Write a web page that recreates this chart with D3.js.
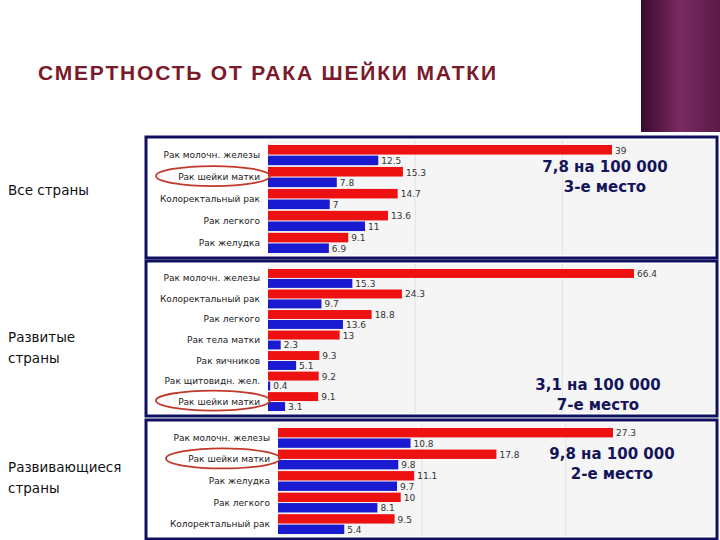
<!DOCTYPE html>
<html lang="ru">
<head>
  <meta charset="UTF-8">
  <style>
    body { margin: 0; background: #fff; }
    svg { font-family: "DejaVu Sans", sans-serif; }
  </style>
</head>
<body>
  <div id="container"></div>
  <script src="https://cdn.jsdelivr.net/npm/d3@7"></script>
  <script>
    // all countries
    const catsAll = ['Рак молочн. железы', 'Рак шейки матки', 'Колоректальный рак', 'Рак легкого', 'Рак желудка'];
    const incAll = [39, 15.3, 14.7, 13.6, 9.1];
    const mortAll = [12.5, 7.8, 7, 11, 6.9];
    // developed
    const catsDev = ['Рак молочн. железы', 'Колоректальный рак', 'Рак легкого', 'Рак тела матки', 'Рак яичников', 'Рак щитовидн. жел.', 'Рак шейки матки'];
    const incDev = [66.4, 24.3, 18.8, 13, 9.3, 9.2, 9.1];
    const mortDev = [15.3, 9.7, 13.6, 2.3, 5.1, 0.4, 3.1];
    // developing
    const catsDvg = ['Рак молочн. железы', 'Рак шейки матки', 'Рак желудка', 'Рак легкого', 'Колоректальный рак'];
    const incDvg = [27.3, 17.8, 11.1, 10, 9.5];
    const mortDvg = [10.8, 9.8, 9.7, 8.1, 5.4];

    const panels = [
      { cats: catsAll, a: incAll, b: mortAll, y0: 137, h: 121, x0: 268, xMax: 612, mark: 1,
        note: ['7,8 на 100 000', '3-е место'], noteX: 605, noteY: 172 },
      { cats: catsDev, a: incDev, b: mortDev, y0: 261, h: 155, x0: 268, xMax: 634, mark: 6,
        note: ['3,1 на 100 000', '7-е место'], noteX: 598, noteY: 390 },
      { cats: catsDvg, a: incDvg, b: mortDvg, y0: 420, h: 119, x0: 278, xMax: 613, mark: 1,
        note: ['9,8 на 100 000', '2-е место'], noteX: 612, noteY: 459 }
    ];

    const svg = d3.select('#container').append('svg').attr('width', 720).attr('height', 540);

    const defs = svg.append('defs');
    const grad = defs.append('linearGradient').attr('id', 'corner').attr('x1', 0).attr('x2', 1);
    grad.append('stop').attr('offset', 0).attr('stop-color', '#3a0a30');
    grad.append('stop').attr('offset', 0.5).attr('stop-color', '#7a2a60');
    grad.append('stop').attr('offset', 1).attr('stop-color', '#5a1a48');
    svg.append('rect').attr('x', 641).attr('y', 0).attr('width', 79).attr('height', 132).attr('fill', 'url(#corner)');

    svg.append('text').attr('x', 38).attr('y', 80).attr('fill', '#7a1a2a')
      .attr('font-family', 'Liberation Sans Narrow, Liberation Sans, sans-serif')
      .attr('font-size', 21).attr('font-weight', 'bold').attr('textLength', 458)
      .text('СМЕРТНОСТЬ ОТ РАКА ШЕЙКИ МАТКИ');

    const sideLabels = [[['Все страны'], 195], [['Развитые', 'страны'], 342], [['Развивающиеся', 'страны'], 472]];
    sideLabels.forEach(([lines, y]) => {
      lines.forEach((t, i) => svg.append('text').attr('x', 8).attr('y', y + i * 21)
        .attr('font-size', 13.5).attr('fill', '#111').text(t));
    });

    panels.forEach(p => {
      const g = svg.append('g');
      g.append('rect').attr('x', 146).attr('y', p.y0).attr('width', 571).attr('height', p.h)
        .attr('fill', '#fff').attr('stroke', '#101060').attr('stroke-width', 3);
      g.append('rect').attr('x', p.x0).attr('y', p.y0 + 3).attr('width', 714 - p.x0).attr('height', p.h - 6)
        .attr('fill', '#f5f5f5');

      const maxV = d3.max(p.a);
      const x = d3.scaleLinear().domain([0, maxV]).range([p.x0, p.xMax]);
      const y = d3.scaleBand().domain(p.cats).range([p.y0 + 8, p.y0 + p.h - 5]).paddingInner(0.08);
      const sub = d3.scaleBand().domain(['a', 'b']).range([0, y.bandwidth()]).paddingInner(0.1);

      [0.33, 0.66].forEach(f => g.append('line')
        .attr('x1', p.x0 + (714 - p.x0) * f).attr('x2', p.x0 + (714 - p.x0) * f)
        .attr('y1', p.y0 + 3).attr('y2', p.y0 + p.h - 3).attr('stroke', '#e2e2e2'));

      p.cats.forEach((c, i) => {
        const yy = y(c);
        g.append('text').attr('x', p.x0 - 8).attr('y', yy + y.bandwidth() / 2 + 3)
          .attr('text-anchor', 'end').attr('font-size', 9).attr('fill', '#222').text(c);
        [['a', p.a[i], '#ee1111'], ['b', p.b[i], '#1a1ad0']].forEach(([k, v, col]) => {
          g.append('rect').attr('x', x(0)).attr('y', yy + sub(k)).attr('width', x(v) - x(0))
            .attr('height', sub.bandwidth()).attr('fill', col);
          g.append('text').attr('x', x(v) + 3).attr('y', yy + sub(k) + sub.bandwidth() - 1)
            .attr('font-size', 9).attr('fill', '#333').text(String(v).replace(',', '.'));
        });
        if (i === p.mark) {
          g.append('ellipse').attr('cx', p.x0 - 55).attr('cy', yy + y.bandwidth() / 2 - 1)
            .attr('rx', 57).attr('ry', 10).attr('fill', 'none')
            .attr('stroke', '#c0392b').attr('stroke-width', 1.8);
        }
      });

      p.note.forEach((t, i) => g.append('text').attr('x', p.noteX).attr('y', p.noteY + i * 20)
        .attr('text-anchor', 'middle').attr('font-size', 15).attr('font-weight', 'bold')
        .attr('fill', '#14145a').text(t));
    });
  </script>
</body>
</html>
